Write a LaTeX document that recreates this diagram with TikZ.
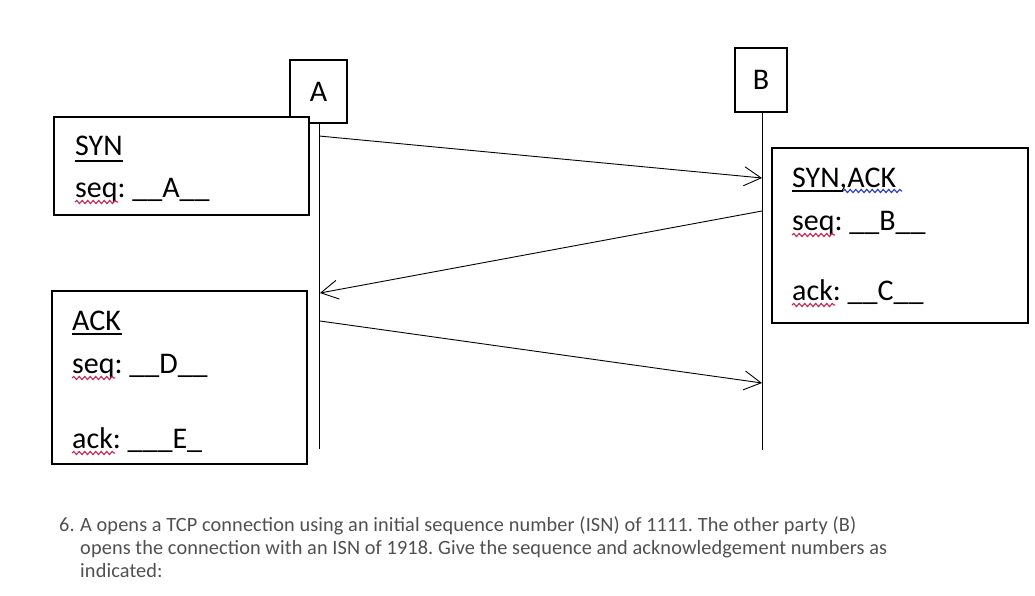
\documentclass[tikz,border=0pt]{standalone}
\usepackage{fontspec}
\setmainfont{Carlito}
\newfontfamily\qfont[LetterSpace=0.6]{Carlito}
\usetikzlibrary{arrows.meta,decorations.pathmorphing}
\definecolor{spellred}{RGB}{200,40,80}
\definecolor{grammarblue}{RGB}{40,60,200}
\definecolor{qgray}{RGB}{80,80,80}
\frenchspacing
\begin{document}
\begin{tikzpicture}[x=1pt,y=-1pt,
  frame/.style={draw, line width=2pt, inner sep=0pt, anchor=north west},
  lbl/.style={font=\fontsize{30}{36}\selectfont, anchor=base west, inner sep=0pt},
  life/.style={line width=0.9pt},
  msg/.style={line width=0.9pt, -{Straight Barb[length=17pt,width=19pt]}},
  uline/.style={line width=1.8pt},
  wavy/.style={line width=1.1pt, decorate, decoration={snake, amplitude=1.6pt, segment length=5.5pt}},
  qtext/.style={font=\qfont\fontsize{20.3}{23}\selectfont, text=qgray, anchor=base west, inner sep=0pt}
]
\useasboundingbox (0,0) rectangle (1035,596);

% participants
\node[frame, minimum width=57pt, minimum height=63pt] (Abox) at (289,59) {};
\node[font=\fontsize{30}{36}\selectfont] at (Abox.center) {A};
\node[frame, minimum width=52pt, minimum height=64pt] (Bbox) at (734,47) {};
\node[font=\fontsize{30}{36}\selectfont] at (Bbox.center) {B};

% lifelines
\coordinate (Aend) at (319,449);
\coordinate (Bend) at (762,450);
\draw[life] (Abox.south -| Aend) -- (Aend);
\draw[life] (Bbox.south -| Bend) -- (Bend);

% message boxes
\node[frame, minimum width=255pt, minimum height=98pt, fill=white] (synbox) at (53,116) {};
\node[lbl] (syn) at (75,156) {SYN};
\node[lbl] (seqA) at (75,197) {seq: \_\_A\_\_};
\draw[uline] (75,161) -- (123,161);
\draw[wavy, spellred] (75,202) -- (118,202);

\node[frame, minimum width=256pt, minimum height=175pt] (synackbox) at (771,147) {};
\node[lbl] (synack) at (792,187) {SYN,ACK};
\node[lbl] (seqB) at (792,230) {seq: \_\_B\_\_};
\node[lbl] (ackC) at (792,300) {ack: \_\_C\_\_};
\draw[uline] (792,191) -- (843,191);
\draw[wavy, grammarblue] (843,191) -- (902,191);
\draw[wavy, spellred] (792,235) -- (835,235);
\draw[wavy, spellred] (792,305) -- (835,305);

\node[frame, minimum width=255pt, minimum height=173pt] (ackbox) at (51,290) {};
\node[lbl] (ack) at (72,330) {ACK};
\node[lbl] (seqD) at (72,373) {seq: \_\_D\_\_};
\node[lbl] (ackE) at (72,448) {ack: \_\_\_E\_};
\draw[uline] (72,334) -- (122,334);
\draw[wavy, spellred] (72,378) -- (115,378);
\draw[wavy, spellred] (72,453) -- (115,453);

% messages
\coordinate (m1s) at (319,136);
\coordinate (m1e) at (762,178);
\coordinate (m2s) at (762,211);
\coordinate (m2e) at (320,293);
\coordinate (m3s) at (320,321);
\coordinate (m3e) at (762,383);
\draw[msg] (m1s) -- (m1e);
\draw[msg] (m2s) -- (m2e);
\draw[msg] (m3s) -- (m3e);

% question text
\node[qtext] (qnum) at (59,531) {6.};
\node[qtext] (q1) at (80,531) {A opens a TCP connection using an initial sequence number (ISN) of 1111. The other party (B)};
\node[qtext] (q2) at (80,554) {opens the connection with an ISN of 1918. Give the sequence and acknowledgement numbers as};
\node[qtext] (q3) at (80,577) {indicated:};
\end{tikzpicture}
\end{document}
